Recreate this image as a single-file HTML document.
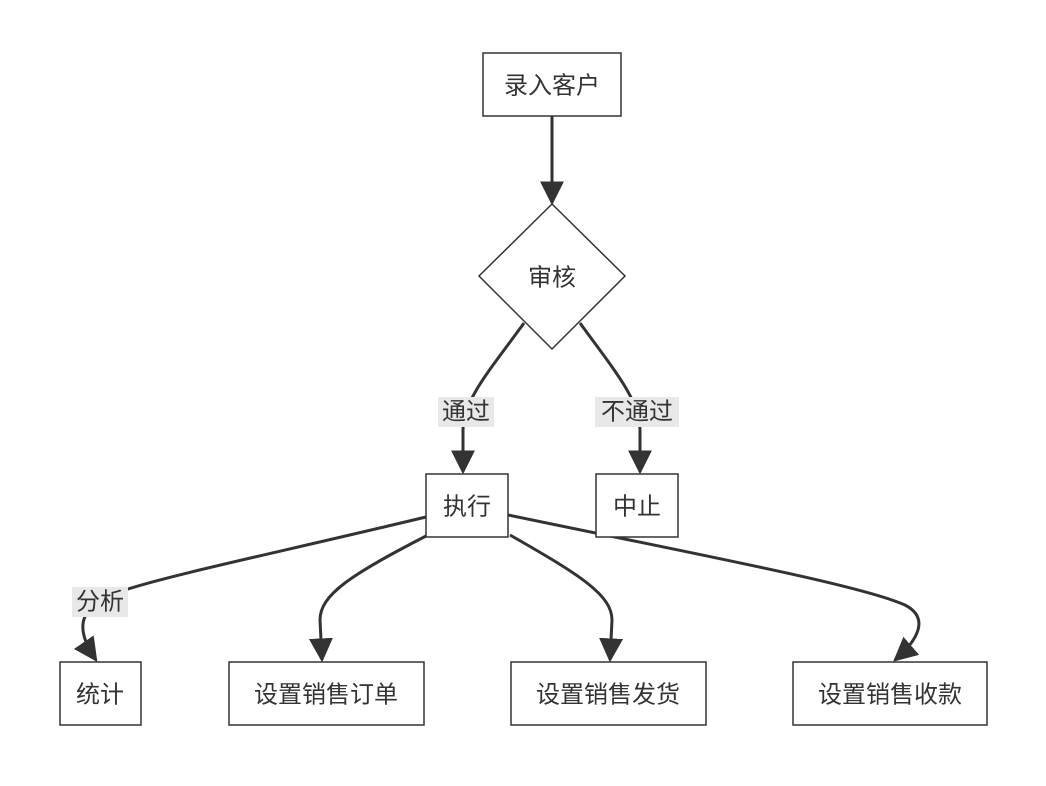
<!DOCTYPE html>
<html><head><meta charset="utf-8"><style>
body{margin:0;background:#fff;}
svg text{font-family:"Liberation Sans","Noto Sans CJK SC",sans-serif;fill:#333;}
</style></head><body>
<svg width="1046" height="781" viewBox="0 0 1046 781" xmlns="http://www.w3.org/2000/svg">
<defs><marker id="a" viewBox="0 0 10 10" refX="9" refY="5" markerWidth="5" markerHeight="5" orient="auto" markerUnits="userSpaceOnUse"><path d="M0,0L10,5L0,10z" fill="#333"/></marker>
<marker id="m" viewBox="0 0 10 10" refX="9" refY="5" markerWidth="8" markerHeight="8" orient="auto"><path d="M0,0L10,5L0,10z" fill="#333"/></marker></defs>
<g fill="none" stroke="#333" stroke-width="3" marker-end="url(#m)">
<path d="M552,116 L552,203"/>
<path d="M524,323 C490,370 463,400 463,430 L463,472"/>
<path d="M580,323 C614,370 640,400 640,430 L640,472"/>
<path d="M426,517 C280,552 170,575 125,590 C80,605 72,625 96,660"/>
<path d="M428,535 C350,575 320,595 320,620 L322,660"/>
<path d="M510,535 C580,575 612,595 612,620 L610,660"/>
<path d="M508,515 C700,555 860,585 905,605 C930,618 918,640 895,660"/>
</g>
<g fill="#fff" stroke="#333" stroke-width="1.5">
<rect x="483" y="53" width="138" height="63"/>
<polygon points="552,204 625,276 552,349 479,276"/>
<rect x="426" y="474" width="82" height="63"/>
<rect x="596" y="474" width="82" height="63"/>
<rect x="60" y="662" width="81" height="63"/>
<rect x="229" y="662" width="195" height="63"/>
<rect x="511" y="662" width="195" height="63"/>
<rect x="793" y="662" width="194" height="63"/>
</g>
<g fill="#e8e8e8">
<rect x="438" y="397" width="56" height="30"/>
<rect x="595" y="397" width="84" height="30"/>
<rect x="72" y="587" width="56" height="30"/>
</g>
<g font-size="24" text-anchor="middle" dominant-baseline="central">
<text x="552" y="86">录入客户</text>
<text x="552" y="278">审核</text>
<text x="467" y="507">执行</text>
<text x="637" y="507">中止</text>
<text x="100" y="695">统计</text>
<text x="326" y="695">设置销售订单</text>
<text x="608" y="695">设置销售发货</text>
<text x="890" y="695">设置销售收款</text>
<text x="466" y="412">通过</text>
<text x="637" y="412">不通过</text>
<text x="100" y="602">分析</text>
</g>
</svg>
</body></html>
